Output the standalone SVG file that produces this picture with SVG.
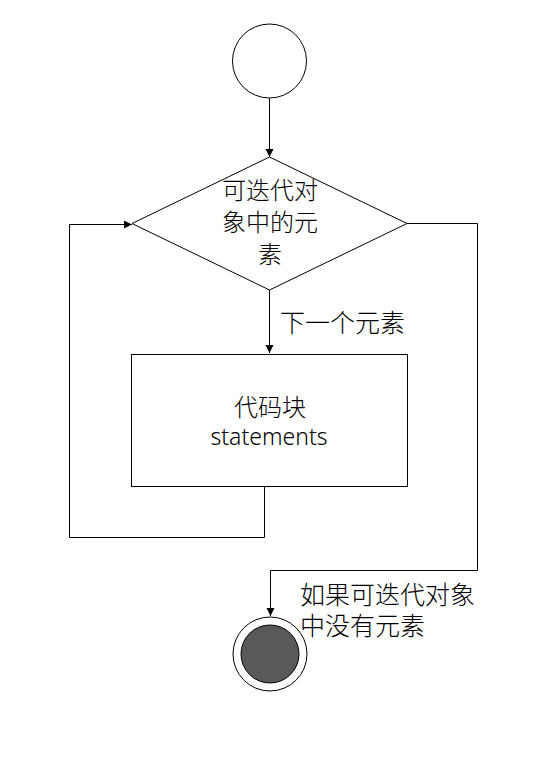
<svg xmlns="http://www.w3.org/2000/svg" width="551" height="769" viewBox="0 0 551 769">
<style>
.s{fill:#fff;stroke:#000;stroke-width:1}
.c{fill:none;stroke:#000;stroke-width:1}
.t{font-family:"Noto Sans","Noto Sans CJK SC",sans-serif;font-size:25px;font-weight:300;fill:#000}
</style>
<defs>
<marker id="a" markerWidth="10" markerHeight="10" refX="8" refY="4" orient="auto" markerUnits="userSpaceOnUse">
<path d="M0,0 L8,4 L0,8 Z" fill="#000"/>
</marker>
</defs>
<rect width="551" height="769" fill="#fff"/>
<g id="connectors">
<path class="c" d="M269.5,98 V157" marker-end="url(#a)"/>
<path class="c" d="M269.5,290 V353" marker-end="url(#a)"/>
<path class="c" d="M264.5,487 V537.5 H69.5 V224.5 H132" marker-end="url(#a)"/>
<path class="c" d="M407,223.5 H477.5 V570.5 H270.5 V616" marker-end="url(#a)"/>
<text class="t" x="280" y="332">下一个元素</text>
<text class="t" x="300" y="604">如果可迭代对象</text>
<text class="t" x="300" y="635">中没有元素</text>
</g>
<g id="start">
<circle class="s" cx="269.5" cy="61" r="37"/>
</g>
<g id="decision">
<path class="s" d="M269.5,157 L407,223.5 L269.5,290 L132,223.5 Z"/>
<text class="t" text-anchor="middle" x="270" y="199" style="font-size:24px">可迭代对</text>
<text class="t" text-anchor="middle" x="270" y="231" style="font-size:24px">象中的元</text>
<text class="t" text-anchor="middle" x="270" y="263" style="font-size:24px">素</text>
</g>
<g id="block">
<rect class="s" x="131.5" y="354.5" width="276" height="132"/>
<text class="t" text-anchor="middle" x="270" y="416" style="font-size:24px">代码块</text>
<text class="t" text-anchor="middle" x="269" y="445" style="font-size:23px">statements</text>
</g>
<g id="end">
<circle class="s" cx="270" cy="654" r="37"/>
<circle cx="270" cy="654" r="29" fill="#595959" stroke="#000" stroke-width="1"/>
</g>
</svg>
